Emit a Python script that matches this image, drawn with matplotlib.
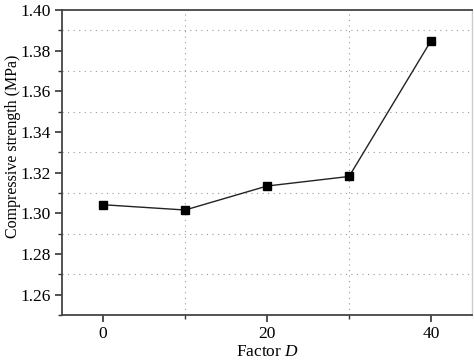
import numpy as np
import matplotlib.pyplot as plt
from matplotlib.ticker import MultipleLocator

# values
factor_d = [0, 10, 20, 30, 40]
strength = [1.3043, 1.3017, 1.3135, 1.3182, 1.385]

plt.rcParams['font.family'] = ['Liberation Serif', 'DejaVu Serif']
plt.rcParams['mathtext.fontset'] = 'custom'
plt.rcParams['mathtext.it'] = 'Liberation Serif:italic'
plt.rcParams['mathtext.rm'] = 'Liberation Serif'

fig = plt.figure(figsize=(4.74, 3.61), dpi=100)
ax = fig.add_axes([0.131, 0.127, 0.865, 0.845])

ax.plot(factor_d, strength, color='#222222', lw=1.0, marker='s',
        markersize=6, markerfacecolor='black', markeredgecolor='black', zorder=3)

ax.set_xlim(-5, 45)
ax.set_ylim(1.25, 1.40)
ax.xaxis.set_major_locator(MultipleLocator(20))
ax.xaxis.set_minor_locator(MultipleLocator(10))
ax.yaxis.set_minor_locator(MultipleLocator(0.01))
yt = np.arange(1.26, 1.401, 0.02)
ax.set_yticks(yt)
ax.set_yticklabels(['%.2f' % v for v in yt])

# dotted grid on minor ticks only
ax.grid(which='minor', linestyle=(0, (1, 4)), color='#999999', lw=0.8)
ax.grid(which='major', visible=False)

ax.tick_params(which='major', direction='out', length=5, width=1.2,
               labelsize=12.5, color='#333333', pad=3)
ax.tick_params(which='minor', direction='out', length=3, width=1.0, color='#333333')
ax.tick_params(axis='x', which='both', top=False)
ax.tick_params(axis='y', which='both', right=False)

for s in ['left', 'bottom', 'top']:
    ax.spines[s].set_color('#444444')
    ax.spines[s].set_linewidth(1.3)
ax.spines['right'].set_color('#cccccc')
ax.spines['right'].set_linewidth(1.0)

ax.set_xlabel('Factor $D$', fontsize=12.5, labelpad=1)
ax.set_ylabel('Compressive strength (MPa)', fontsize=11.5)
ax.yaxis.set_label_coords(-0.1, 0.555)

fig.savefig('out.png', dpi=100)
